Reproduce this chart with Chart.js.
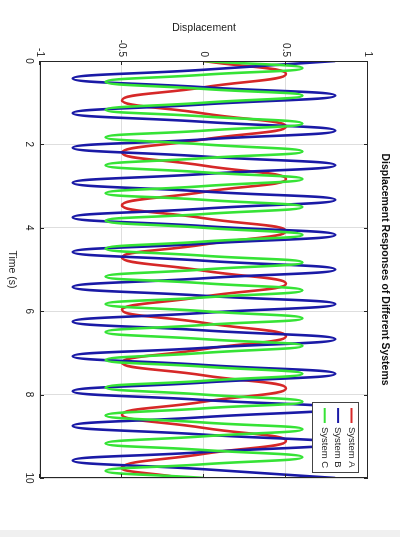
<!DOCTYPE html>
<html lang="en">
<head>
<meta charset="UTF-8">
<title>Displacement Responses of Different Systems</title>
<script src="https://cdn.jsdelivr.net/npm/chart.js"></script>
<style>
    html, body { margin: 0; padding: 0; background: #fff; overflow: hidden; }
    body { width: 400px; height: 537px; position: relative; }
    /* the chart is drawn landscape, then turned a quarter turn clockwise */
    .chart-box {
        position: absolute; left: 0; top: 0;
        width: 537px; height: 400px;
        transform-origin: 0 0;
        transform: translate(400px, 0) rotate(90deg);
    }
    .strip { position: absolute; left: 0; right: 0; top: 530px; height: 7px; background: #f0f0f0; }
</style>
</head>
<body>
<div class="chart-box"><canvas id="respChart" width="537" height="400"></canvas></div>
<div class="strip"></div>
<script>
// System A: red, peaks every ~1.26 s
const timeA = [0, 0.31, 0.63, 0.94, 1.26, 1.57, 1.88, 2.2, 2.51, 2.83, 3.14, 3.46, 3.77, 4.08, 4.4, 4.71,
    5.03, 5.34, 5.65, 5.97, 6.28, 6.6, 6.91, 7.23, 7.54, 7.85, 8.17, 8.48, 8.8, 9.11, 9.42, 9.74, 10];
const dispA = [0, 0.5, 0, -0.5, 0, 0.5, 0, -0.5, 0, 0.5, 0, -0.5, 0, 0.5, 0, -0.5,
    0, 0.5, 0, -0.5, 0, 0.5, 0, -0.5, 0, 0.5, 0, -0.5, 0, 0.5, 0, -0.5, -0.13];

// System B: blue
const timeB = [0, 0.21, 0.42, 0.63, 0.83, 1.04, 1.25, 1.46, 1.67, 1.88, 2.08, 2.29, 2.5, 2.71, 2.92, 3.13,
    3.33, 3.54, 3.75, 3.96, 4.17, 4.38, 4.58, 4.79, 5, 5.21, 5.42, 5.63, 5.83, 6.04, 6.25, 6.46,
    6.67, 6.88, 7.08, 7.29, 7.5, 7.71, 7.92, 8.13, 8.33, 8.54, 8.75, 8.96, 9.17, 9.38, 9.58, 9.79, 10];
const dispB = [0.8, 0, -0.8, 0, 0.8, 0, -0.8, 0, 0.8, 0, -0.8, 0, 0.8, 0, -0.8, 0,
    0.8, 0, -0.8, 0, 0.8, 0, -0.8, 0, 0.8, 0, -0.8, 0, 0.8, 0, -0.8, 0,
    0.8, 0, -0.8, 0, 0.8, 0, -0.8, 0, 0.8, 0, -0.8, 0, 0.8, 0, -0.8, 0, 0.8];

// System C: green
const timeC = [0, 0.17, 0.33, 0.5, 0.67, 0.83, 1, 1.17, 1.33, 1.5, 1.67, 1.83, 2, 2.17, 2.33, 2.5,
    2.67, 2.83, 3, 3.17, 3.33, 3.5, 3.67, 3.83, 4, 4.17, 4.33, 4.5, 4.67, 4.83, 5, 5.17,
    5.33, 5.5, 5.67, 5.83, 6, 6.17, 6.33, 6.5, 6.67, 6.83, 7, 7.17, 7.33, 7.5, 7.67, 7.83,
    8, 8.17, 8.33, 8.5, 8.67, 8.83, 9, 9.17, 9.33, 9.5, 9.67, 9.83, 10];
const dispC = [0, 0.6, 0, -0.6, 0, 0.6, 0, -0.6, 0, 0.6, 0, -0.6, 0, 0.6, 0, -0.6,
    0, 0.6, 0, -0.6, 0, 0.6, 0, -0.6, 0, 0.6, 0, -0.6, 0, 0.6, 0, -0.6,
    0, 0.6, 0, -0.6, 0, 0.6, 0, -0.6, 0, 0.6, 0, -0.6, 0, 0.6, 0, -0.6,
    0, 0.6, 0, -0.6, 0, 0.6, 0, -0.6, 0, 0.6, 0, -0.6, 0];

const seriesNames = ['System A', 'System B', 'System C'];
const timeTicks = [0, 2, 4, 6, 8, 10];
const dispTicks = [-1, -0.5, 0, 0.5, 1];

const FONT = '"Liberation Sans", Arial, sans-serif';

function toPoints(ts, vs) {
    return ts.map((t, i) => ({ x: t, y: vs[i] }));
}

// box round the plot, short inward ticks, and the legend inside the plot
const framePlugin = {
    id: 'frame',
    afterDraw(chart) {
        const ctx = chart.ctx;
        const a = chart.chartArea;
        const xs = chart.scales.x, ys = chart.scales.y;
        ctx.save();
        ctx.strokeStyle = '#262626';
        ctx.lineWidth = 1;
        ctx.strokeRect(a.left + 0.5, a.top + 0.5, a.right - a.left - 1, a.bottom - a.top - 1);
        ctx.beginPath();
        timeTicks.forEach(v => {
            const px = Math.round(xs.getPixelForValue(v)) + 0.5;
            ctx.moveTo(px, a.bottom); ctx.lineTo(px, a.bottom - 4);
            ctx.moveTo(px, a.top); ctx.lineTo(px, a.top + 4);
        });
        dispTicks.forEach(v => {
            const py = Math.round(ys.getPixelForValue(v)) + 0.5;
            ctx.moveTo(a.left, py); ctx.lineTo(a.left + 4, py);
            ctx.moveTo(a.right, py); ctx.lineTo(a.right - 4, py);
        });
        ctx.stroke();

        // legend
        const bx = a.right - 76, by = a.top + 9, bw = 70, bh = 46;
        ctx.fillStyle = '#fff';
        ctx.fillRect(bx, by, bw, bh);
        ctx.strokeStyle = '#444';
        ctx.strokeRect(bx + 0.5, by + 0.5, bw, bh);
        ctx.font = '9.5px ' + FONT;
        ctx.textBaseline = 'middle';
        ctx.textAlign = 'left';
        chart.data.datasets.forEach((ds, i) => {
            const ry = by + 7.5 + i * 13.4;
            ctx.strokeStyle = ds.borderColor;
            ctx.lineWidth = 2;
            ctx.beginPath();
            ctx.moveTo(bx + 6, ry); ctx.lineTo(bx + 21, ry);
            ctx.stroke();
            ctx.fillStyle = '#222';
            ctx.fillText(ds.label, bx + 25, ry);
        });
        ctx.restore();
    }
};

const ctx = document.getElementById('respChart').getContext('2d');
new Chart(ctx, {
    type: 'line',
    data: {
        datasets: [
            { label: seriesNames[0], data: toPoints(timeA, dispA), borderColor: '#d62828', order: 2 },
            { label: seriesNames[1], data: toPoints(timeB, dispB), borderColor: '#1a1aa6', order: 1 },
            { label: seriesNames[2], data: toPoints(timeC, dispC), borderColor: '#36e336', order: 0 }
        ]
    },
    options: {
        responsive: false,
        animation: false,
        devicePixelRatio: 1,
        layout: { padding: { left: 0, right: 59, top: 0, bottom: 0 } },
        elements: {
            line: { borderWidth: 2.6, tension: 0.5, fill: false },
            point: { radius: 0 }
        },
        plugins: {
            legend: { display: false },
            tooltip: { enabled: false },
            title: {
                display: true,
                fullSize: false,
                text: 'Displacement Responses of Different Systems',
                color: '#111',
                font: { family: FONT, size: 10.5, weight: 'bold' },
                padding: { top: 8.7, bottom: 10.7 }
            }
        },
        scales: {
            x: {
                type: 'linear',
                min: 0, max: 10,
                afterFit(s) { s.height = 40; },
                afterBuildTicks(s) { s.ticks = timeTicks.map(v => ({ value: v })); },
                border: { display: false },
                grid: { color: '#dedede', drawTicks: false },
                ticks: {
                    color: '#222', padding: 5, font: { family: FONT, size: 10 },
                    callback: v => String(v)
                },
                title: {
                    display: true, text: 'Time (s)', color: '#222',
                    font: { family: FONT, size: 10.5 },
                    padding: { top: 0, bottom: 5.7 }
                }
            },
            y: {
                min: -1, max: 1,
                afterFit(s) { s.width = 61; },
                afterBuildTicks(s) { s.ticks = dispTicks.map(v => ({ value: v })); },
                border: { display: false },
                grid: { color: '#dedede', drawTicks: false },
                ticks: {
                    color: '#222', padding: 4, font: { family: FONT, size: 10 },
                    callback: v => String(v)
                },
                title: {
                    display: true, text: 'Displacement', color: '#222',
                    font: { family: FONT, size: 10.5 },
                    padding: { top: 21.7, bottom: 0 }
                }
            }
        }
    },
    plugins: [framePlugin]
});
</script>
</body>
</html>
